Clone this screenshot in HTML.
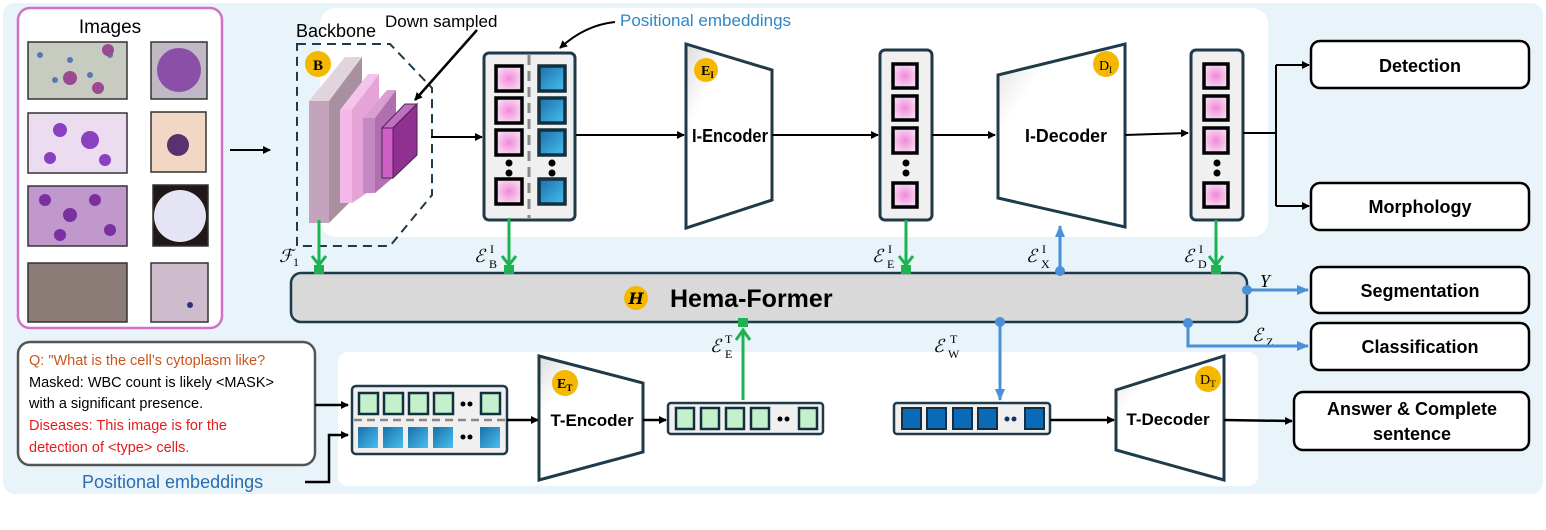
<!DOCTYPE html>
<html><head><meta charset="utf-8"><style>
body{margin:0;background:#fff;}
svg{display:block;font-family:"Liberation Sans",sans-serif;}
.b{font-weight:bold}
.m{font-family:"DejaVu Serif","Liberation Serif",serif;font-style:italic}
.s{font-family:"Liberation Serif",serif;font-size:12px}
</style></head><body>
<svg width="1546" height="530" viewBox="0 0 1546 530" xmlns="http://www.w3.org/2000/svg">
<defs>
<marker id="ak" markerWidth="8" markerHeight="8" refX="7" refY="4" orient="auto" markerUnits="userSpaceOnUse"><path d="M0,0L8,4L0,8z" fill="#000"/></marker>
<marker id="ab" markerWidth="12" markerHeight="10" refX="11" refY="5" orient="auto" markerUnits="userSpaceOnUse"><path d="M0,0L12,5L0,10z" fill="#4a90d9"/></marker>
<radialGradient id="pk"><stop offset="0" stop-color="#f08ad8"/><stop offset="1" stop-color="#f8d4f0"/></radialGradient>
<linearGradient id="bl" x1="0" y1="0" x2="1" y2="1"><stop offset="0" stop-color="#1a6fa8"/><stop offset="1" stop-color="#48bff0"/></linearGradient>
<linearGradient id="tr" x1="0" y1="0" x2="1" y2="1"><stop offset="0" stop-color="#ddd"/><stop offset="0.25" stop-color="#fff"/><stop offset="1" stop-color="#fff"/></linearGradient>
</defs>
<rect x="3" y="3" width="1540" height="491" rx="12" fill="#e8f3fa"/>
<rect x="320" y="8" width="948" height="229" rx="16" fill="#fff"/>
<rect x="338" y="352" width="920" height="134" rx="10" fill="#fff"/>

<!-- images -->
<rect x="18" y="8" width="204" height="320" rx="12" fill="#fff" stroke="#d070c8" stroke-width="2.5"/>
<text x="110" y="33" font-size="19" text-anchor="middle">Images</text>
<g stroke="#333" stroke-width="1.5">
<rect x="28" y="42" width="99" height="57" fill="#c8ccc0"/>
<rect x="151" y="42" width="56" height="57" fill="#c0b8c4"/>
<rect x="28" y="113" width="99" height="60" fill="#ecdcf0"/>
<rect x="151" y="112" width="55" height="60" fill="#f2d8c4"/>
<rect x="28" y="186" width="99" height="60" fill="#c098cc"/>
<rect x="153" y="185" width="55" height="61" fill="#201818"/>
<rect x="28" y="263" width="99" height="59" fill="#8c7c78"/>
<rect x="151" y="263" width="57" height="59" fill="#ccbccc"/>
</g>
<g fill="#5a78b0"><circle cx="40" cy="55" r="3"/><circle cx="55" cy="80" r="3"/><circle cx="70" cy="60" r="3"/><circle cx="90" cy="75" r="3"/><circle cx="110" cy="55" r="3"/><circle cx="100" cy="90" r="3"/></g>
<circle cx="70" cy="78" r="7" fill="#9a4a90"/><circle cx="108" cy="50" r="6" fill="#9a4a90"/><circle cx="98" cy="88" r="6" fill="#9a4a90"/>
<circle cx="179" cy="70" r="22" fill="#8a50a8"/>
<g fill="#8a40c0"><circle cx="60" cy="130" r="7"/><circle cx="90" cy="140" r="9"/><circle cx="50" cy="158" r="6"/><circle cx="105" cy="160" r="6"/></g>
<circle cx="178" cy="145" r="11" fill="#5a3070"/>
<g fill="#7a30a0"><circle cx="45" cy="200" r="6"/><circle cx="70" cy="215" r="7"/><circle cx="95" cy="200" r="6"/><circle cx="60" cy="235" r="6"/><circle cx="110" cy="230" r="6"/></g>
<circle cx="180" cy="216" r="26" fill="#e4e4f4"/>
<circle cx="190" cy="305" r="3" fill="#303080"/>

<line x1="230" y1="150" x2="270" y2="150" stroke="#000" stroke-width="2" marker-end="url(#ak)"/>

<!-- backbone -->
<text x="296" y="37" font-size="18">Backbone</text>
<path d="M297,44 L390,44 L432,88 L432,195 L390,246 L297,246 Z" fill="none" stroke="#1f3a4a" stroke-width="2" stroke-dasharray="9,6"/>
<circle cx="318" cy="64" r="13" fill="#f5b800"/>
<text x="318" y="70" font-size="15" text-anchor="middle" class="b" font-family="Liberation Serif,serif">B</text>
<polygon points="309,101 345,57 362,57 329,101" fill="#e2d4dc"/>
<polygon points="329,101 362,57 362,190 329,223" fill="#a890a0"/>
<rect x="309" y="101" width="20" height="122" fill="#c4a4bc"/>
<polygon points="340,110 368,74 379,74 352,110" fill="#f4c4ec"/>
<polygon points="352,110 379,74 379,185 352,203" fill="#e4a4d8"/>
<rect x="340" y="110" width="12" height="93" fill="#f4b8e8"/>
<polygon points="363,118 387,90 396,90 375,118" fill="#d8a0d0"/>
<polygon points="375,118 396,90 396,175 375,193" fill="#b070b0"/>
<rect x="363" y="118" width="12" height="75" fill="#c488c4"/>
<polygon points="382,128 405,104 417,104 393,128" fill="#c070c0" stroke="#502050"/>
<polygon points="393,128 417,104 417,155 393,178" fill="#903090" stroke="#502050"/>
<rect x="382" y="128" width="11" height="50" fill="#d060c8" stroke="#502050"/>
<text x="385" y="27" font-size="17">Down sampled</text>
<line x1="477" y1="30" x2="415" y2="100" stroke="#000" stroke-width="2.5" marker-end="url(#ak)"/>
<text x="620" y="26" font-size="17" fill="#2e86c8">Positional embeddings</text>
<path d="M615,22 Q585,25 560,48" fill="none" stroke="#000" stroke-width="2" marker-end="url(#ak)"/>
<line x1="431" y1="137" x2="482" y2="137" stroke="#000" stroke-width="2" marker-end="url(#ak)"/>

<!-- column 1 -->
<rect x="484" y="53" width="91" height="167" rx="5" fill="#f0f0f0" stroke="#1f3a4a" stroke-width="3"/>
<line x1="529" y1="55" x2="529" y2="218" stroke="#888" stroke-width="3" stroke-dasharray="10,6"/>
<g stroke="#000" stroke-width="3.5" fill="url(#pk)">
<rect x="496" y="66" width="26" height="25"/><rect x="496" y="98" width="26" height="25"/><rect x="496" y="130" width="26" height="25"/><rect x="496" y="179" width="26" height="25"/></g>
<g stroke="#14303f" stroke-width="3.5" fill="url(#bl)">
<rect x="539" y="66" width="26" height="25"/><rect x="539" y="98" width="26" height="25"/><rect x="539" y="130" width="26" height="25"/><rect x="539" y="179" width="26" height="25"/></g>
<g fill="#000"><circle cx="509" cy="163" r="3.5"/><circle cx="509" cy="173" r="3.5"/><circle cx="552" cy="163" r="3.5"/><circle cx="552" cy="173" r="3.5"/></g>
<line x1="576" y1="135" x2="684" y2="135" stroke="#000" stroke-width="2" marker-end="url(#ak)"/>

<!-- I-Encoder -->
<polygon points="686,44 772,70 772,200 686,228" fill="url(#tr)" stroke="#1f3a4a" stroke-width="3"/>
<circle cx="706" cy="70" r="12" fill="#f5b800"/>
<text x="701" y="75" font-size="14" class="b" font-family="Liberation Serif,serif">E<tspan font-size="9" dy="3">I</tspan></text>
<text x="730" y="142" font-size="18" class="b" text-anchor="middle" textLength="76" lengthAdjust="spacingAndGlyphs">I-Encoder</text>
<line x1="772" y1="135" x2="878" y2="135" stroke="#000" stroke-width="2" marker-end="url(#ak)"/>

<!-- column 2 -->
<rect x="880" y="50" width="52" height="170" rx="5" fill="#f0f0f0" stroke="#1f3a4a" stroke-width="3"/>
<g stroke="#000" stroke-width="3.5" fill="url(#pk)">
<rect x="893" y="64" width="24" height="24"/><rect x="893" y="96" width="24" height="24"/><rect x="893" y="128" width="24" height="25"/><rect x="893" y="183" width="24" height="24"/></g>
<circle cx="906" cy="163" r="3.5"/><circle cx="906" cy="173" r="3.5"/>
<line x1="932" y1="135" x2="995" y2="135" stroke="#000" stroke-width="2" marker-end="url(#ak)"/>

<!-- I-Decoder -->
<polygon points="998,75 1125,44 1125,227 998,198" fill="url(#tr)" stroke="#1f3a4a" stroke-width="3"/>
<circle cx="1106" cy="64" r="13" fill="#f5b800"/>
<text x="1099" y="70" font-size="14" font-family="Liberation Serif,serif">D<tspan font-size="9" dy="3">I</tspan></text>
<text x="1066" y="142" font-size="18" class="b" text-anchor="middle" textLength="82" lengthAdjust="spacingAndGlyphs">I-Decoder</text>
<line x1="1125" y1="135" x2="1188" y2="133" stroke="#000" stroke-width="2" marker-end="url(#ak)"/>

<!-- column 3 -->
<rect x="1191" y="50" width="52" height="170" rx="5" fill="#f0f0f0" stroke="#1f3a4a" stroke-width="3"/>
<g stroke="#000" stroke-width="3.5" fill="url(#pk)">
<rect x="1204" y="64" width="24" height="24"/><rect x="1204" y="96" width="24" height="24"/><rect x="1204" y="128" width="24" height="25"/><rect x="1204" y="183" width="24" height="24"/></g>
<circle cx="1217" cy="163" r="3.5"/><circle cx="1217" cy="173" r="3.5"/>
<path d="M1243,133 L1276,133 M1276,65 L1276,206" stroke="#000" stroke-width="2" fill="none"/>
<line x1="1276" y1="65" x2="1309" y2="65" stroke="#000" stroke-width="2" marker-end="url(#ak)"/>
<line x1="1276" y1="206" x2="1309" y2="206" stroke="#000" stroke-width="2" marker-end="url(#ak)"/>

<!-- output boxes -->
<g fill="#fff" stroke="#000" stroke-width="2.5">
<rect x="1311" y="41" width="218" height="47" rx="9"/>
<rect x="1311" y="183" width="218" height="47" rx="9"/>
<rect x="1311" y="267" width="218" height="46" rx="9"/>
<rect x="1311" y="323" width="218" height="47" rx="9"/>
<rect x="1294" y="392" width="235" height="58" rx="9"/>
</g>
<g font-size="18" class="b" text-anchor="middle">
<text x="1420" y="72">Detection</text>
<text x="1420" y="213">Morphology</text>
<text x="1420" y="297">Segmentation</text>
<text x="1420" y="353">Classification</text>
<text x="1412" y="415">Answer &amp; Complete</text>
<text x="1412" y="440">sentence</text>
</g>

<!-- Hema-Former -->
<rect x="291" y="273" width="956" height="49" rx="10" fill="#d9d9d9" stroke="#1f3a4a" stroke-width="2.5"/>
<circle cx="636" cy="298" r="12" fill="#f5b800"/>
<text x="636" y="304" font-size="16" class="m b" text-anchor="middle">H</text>
<text x="670" y="307" font-size="25" class="b">Hema-Former</text>

<!-- green arrows -->
<g stroke="#1db350" stroke-width="3" fill="none">
<path d="M319,220 L319,264 M312,256 L319,265 L326,256"/>
<path d="M509,218 L509,264 M502,256 L509,265 L516,256"/>
<path d="M906,220 L906,264 M899,256 L906,265 L913,256"/>
<path d="M1216,220 L1216,264 M1209,256 L1216,265 L1223,256"/>
<path d="M743,400 L743,330 M736,340 L743,330 L750,340"/>
</g>
<g fill="#1db350"><rect x="314" y="265" width="10" height="9"/><rect x="504" y="265" width="10" height="9"/><rect x="901" y="265" width="10" height="9"/><rect x="1211" y="265" width="10" height="9"/><rect x="738" y="318" width="10" height="9"/></g>
<g font-size="18" class="m">
<text x="279" y="262">ℱ</text>
<text x="474" y="262">ℰ</text>
<text x="872" y="262">ℰ</text>
<text x="1026" y="262">ℰ</text>
<text x="1183" y="262">ℰ</text>
<text x="710" y="352">ℰ</text>
<text x="933" y="352">ℰ</text>
<text x="1260" y="287" font-family="Liberation Serif,serif">Y</text>
<text x="1252" y="341">ℰ</text>
</g>
<g class="s">
<text x="293" y="266">1</text>
<text x="489" y="268">B</text><text x="490" y="253">I</text>
<text x="887" y="268">E</text><text x="888" y="253">I</text>
<text x="1041" y="268">X</text><text x="1042" y="253">I</text>
<text x="1198" y="268">D</text><text x="1199" y="253">I</text>
<text x="725" y="358">E</text><text x="725" y="343">T</text>
<text x="948" y="358">W</text><text x="950" y="343">T</text>
<text x="1266" y="346">Z</text>
</g>

<!-- blue connectors -->
<g stroke="#4a90d9" stroke-width="3" fill="none">
<line x1="1060" y1="270" x2="1060" y2="226" marker-end="url(#ab)"/>
<line x1="1247" y1="290" x2="1308" y2="290" marker-end="url(#ab)"/>
<path d="M1188,323 L1188,346 L1308,346" marker-end="url(#ab)"/>
<line x1="1000" y1="322" x2="1000" y2="400" marker-end="url(#ab)"/>
</g>
<g fill="#4a90d9"><circle cx="1060" cy="271" r="5"/><circle cx="1247" cy="290" r="5"/><circle cx="1188" cy="323" r="5"/><circle cx="1000" cy="322" r="5"/></g>

<!-- text box -->
<rect x="18" y="342" width="297" height="123" rx="12" fill="#fff" stroke="#555" stroke-width="2.5"/>
<g font-size="14.5">
<text x="29" y="365" fill="#c8561e">Q: "What is the cell’s cytoplasm like?</text>
<text x="29" y="387">Masked: WBC count is likely &lt;MASK&gt;</text>
<text x="29" y="408">with a significant presence.</text>
<text x="29" y="430" fill="#e81c1c">Diseases: This image is for the</text>
<text x="29" y="452" fill="#e81c1c">detection of  &lt;type&gt;  cells.</text>
</g>
<text x="82" y="488" font-size="18" fill="#2a6cb0">Positional embeddings</text>
<line x1="315" y1="405" x2="348" y2="405" stroke="#000" stroke-width="2.5" marker-end="url(#ak)"/>
<path d="M305,482 L329,482 L329,435 L348,435" stroke="#000" stroke-width="2.5" fill="none" marker-end="url(#ak)"/>

<!-- token box 1 -->
<rect x="352" y="386" width="155" height="68" rx="4" fill="#f0f0f0" stroke="#1f3a4a" stroke-width="2.5"/>
<line x1="354" y1="420" x2="505" y2="420" stroke="#888" stroke-width="2.5" stroke-dasharray="8,5"/>
<g fill="#c4f0cc" stroke="#14303f" stroke-width="2.5">
<rect x="359" y="393" width="19" height="21"/><rect x="384" y="393" width="19" height="21"/><rect x="409" y="393" width="19" height="21"/><rect x="434" y="393" width="19" height="21"/><rect x="481" y="393" width="19" height="21"/></g>
<g fill="url(#bl)"><rect x="358" y="427" width="20" height="21"/><rect x="383" y="427" width="20" height="21"/><rect x="408" y="427" width="20" height="21"/><rect x="433" y="427" width="20" height="21"/><rect x="480" y="427" width="20" height="21"/></g>
<g fill="#000"><circle cx="463" cy="404" r="2.5"/><circle cx="470" cy="404" r="2.5"/><circle cx="463" cy="437" r="2.5"/><circle cx="470" cy="437" r="2.5"/></g>
<line x1="507" y1="420" x2="538" y2="420" stroke="#000" stroke-width="2.5" marker-end="url(#ak)"/>

<!-- T-Encoder -->
<polygon points="539,356 643,383 643,452 539,480" fill="url(#tr)" stroke="#1f3a4a" stroke-width="3"/>
<circle cx="565" cy="383" r="13" fill="#f5b800"/>
<text x="557" y="388" font-size="14" class="b" font-family="Liberation Serif,serif">E<tspan font-size="9" dy="3">T</tspan></text>
<text x="592" y="426" font-size="17" class="b" text-anchor="middle">T-Encoder</text>
<line x1="643" y1="420" x2="666" y2="420" stroke="#000" stroke-width="2.5" marker-end="url(#ak)"/>

<!-- token box 2 -->
<rect x="668" y="403" width="155" height="31" rx="3" fill="#f0f0f0" stroke="#1f3a4a" stroke-width="2.5"/>
<g fill="#c4f0cc" stroke="#14303f" stroke-width="2.5">
<rect x="676" y="408" width="18" height="21"/><rect x="701" y="408" width="18" height="21"/><rect x="726" y="408" width="18" height="21"/><rect x="751" y="408" width="18" height="21"/><rect x="799" y="408" width="18" height="21"/></g>
<g fill="#000"><circle cx="780" cy="419" r="2.5"/><circle cx="787" cy="419" r="2.5"/></g>

<!-- token box 3 -->
<rect x="894" y="403" width="156" height="31" rx="3" fill="#f0f0f0" stroke="#1f3a4a" stroke-width="2.5"/>
<g fill="#0b6ab8" stroke="#14303f" stroke-width="2">
<rect x="902" y="408" width="19" height="21"/><rect x="927" y="408" width="19" height="21"/><rect x="953" y="408" width="19" height="21"/><rect x="978" y="408" width="19" height="21"/><rect x="1025" y="408" width="19" height="21"/></g>
<g fill="#14306f"><circle cx="1007" cy="419" r="2.5"/><circle cx="1014" cy="419" r="2.5"/></g>
<line x1="1050" y1="420" x2="1114" y2="420" stroke="#000" stroke-width="2.5" marker-end="url(#ak)"/>

<!-- T-Decoder -->
<polygon points="1116,390 1224,356 1224,480 1116,450" fill="url(#tr)" stroke="#1f3a4a" stroke-width="3"/>
<circle cx="1208" cy="379" r="13" fill="#f5b800"/>
<text x="1200" y="384" font-size="14" font-family="Liberation Serif,serif">D<tspan font-size="9" dy="3">T</tspan></text>
<text x="1168" y="425" font-size="17" class="b" text-anchor="middle">T-Decoder</text>
<line x1="1224" y1="420" x2="1292" y2="421" stroke="#000" stroke-width="2.5" marker-end="url(#ak)"/>
</svg>
</body></html>
